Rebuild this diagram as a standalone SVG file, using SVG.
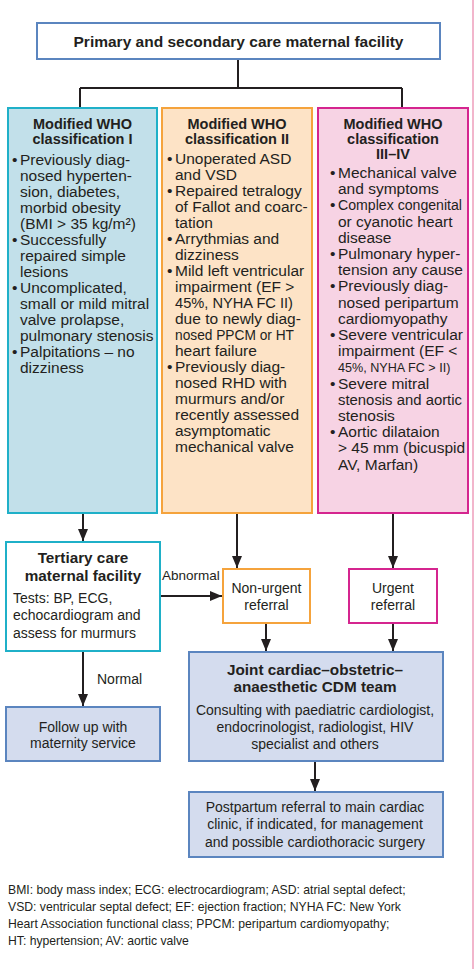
<svg xmlns="http://www.w3.org/2000/svg" width="474" height="969" viewBox="0 0 474 969">
<style>
text{font-family:"Liberation Sans",Arial,sans-serif;fill:#231f20}
.b{font-weight:bold}
.c{font-size:15.5px}
.m{text-anchor:middle}
.r{font-size:14px}
.fn{font-size:12.2px}
.con{stroke:#231f20;stroke-width:2;fill:none}
.bluebox{fill:#d4dcee;stroke:#5b85bf;stroke-width:2}
</style>
<defs>
<marker id="ah" markerUnits="userSpaceOnUse" markerWidth="12" markerHeight="12" viewBox="0 0 12 12" refX="12" refY="6" orient="auto">
<path d="M0,1 L12,6 L0,11 Z" fill="#231f20"/>
</marker>
</defs>
<rect x="0" y="0" width="474" height="969" fill="#ffffff"/>
<rect x="472" y="0" width="2" height="969" fill="#f2b6cc"/>

<g id="connectors">
<path class="con" d="M238,59 V88 M80,88 H402 M80,88 V108 M402,88 V108"/>
<line class="con" x1="83" y1="513" x2="83" y2="541" marker-end="url(#ah)"/>
<line class="con" x1="237" y1="513" x2="237" y2="568" marker-end="url(#ah)"/>
<line class="con" x1="393" y1="513" x2="393" y2="568" marker-end="url(#ah)"/>
<line class="con" x1="160" y1="596" x2="222" y2="596" marker-end="url(#ah)"/>
<line class="con" x1="83" y1="651" x2="83" y2="706" marker-end="url(#ah)"/>
<line class="con" x1="266" y1="623" x2="266" y2="651" marker-end="url(#ah)"/>
<line class="con" x1="393" y1="623" x2="393" y2="651" marker-end="url(#ah)"/>
<line class="con" x1="315" y1="761" x2="315" y2="791" marker-end="url(#ah)"/>
<text class="r" x="162" y="580" style="font-size:13.5px">Abnormal</text>
<text class="r" x="97" y="684">Normal</text>
</g>

<g id="primary">
<rect x="37" y="23" width="403" height="36" fill="#ffffff" stroke="#5b85bf" stroke-width="2"/>
<text class="b m" x="238.5" y="47" style="font-size:15.5px">Primary and secondary care maternal facility</text>
</g>

<g id="who1">
<rect x="8" y="108" width="149" height="405" fill="#c2e0ea" stroke="#1fb0c8" stroke-width="2"/>
<text class="b m" x="82.5" y="129" style="font-size:14.5px">Modified WHO</text>
<text class="b m" x="82.5" y="144" style="font-size:14.5px">classification I</text>
<text class="c">
<tspan x="12" y="165">•</tspan><tspan x="20" y="165">Previously diag-</tspan>
<tspan x="20" y="181">nosed hyperten-</tspan>
<tspan x="20" y="197">sion, diabetes,</tspan>
<tspan x="20" y="213">morbid obesity</tspan>
<tspan x="20" y="229">(BMI &gt; 35 kg/m²)</tspan>
<tspan x="12" y="245">•</tspan><tspan x="20" y="245">Successfully</tspan>
<tspan x="20" y="261">repaired simple</tspan>
<tspan x="20" y="277">lesions</tspan>
<tspan x="12" y="293">•</tspan><tspan x="20" y="293">Uncomplicated,</tspan>
<tspan x="20" y="309">small or mild mitral</tspan>
<tspan x="20" y="325">valve prolapse,</tspan>
<tspan x="20" y="341">pulmonary stenosis</tspan>
<tspan x="12" y="357">•</tspan><tspan x="20" y="357">Palpitations – no</tspan>
<tspan x="20" y="373">dizziness</tspan>
</text>
</g>

<g id="who2">
<rect x="162" y="108" width="150" height="405" fill="#fde3c6" stroke="#f5a33c" stroke-width="2"/>
<text class="b m" x="237" y="129" style="font-size:14.5px">Modified WHO</text>
<text class="b m" x="237" y="144" style="font-size:14.5px">classification II</text>
<text class="c">
<tspan x="167" y="164">•</tspan><tspan x="175" y="164">Unoperated ASD</tspan>
<tspan x="175" y="180">and VSD</tspan>
<tspan x="167" y="196">•</tspan><tspan x="175" y="196">Repaired tetralogy</tspan>
<tspan x="175" y="212">of Fallot and coarc-</tspan>
<tspan x="175" y="228">tation</tspan>
<tspan x="167" y="244">•</tspan><tspan x="175" y="244">Arrythmias and</tspan>
<tspan x="175" y="260">dizziness</tspan>
<tspan x="167" y="276">•</tspan><tspan x="175" y="276">Mild left ventricular</tspan>
<tspan x="175" y="292">impairment (EF &gt;</tspan>
</text>
<text class="c" x="175" y="308" textLength="118" lengthAdjust="spacingAndGlyphs">45%, NYHA FC II)</text>
<text class="c">
<tspan x="175" y="324">due to newly diag-</tspan>
</text>
<text class="c" x="175" y="340" textLength="119" lengthAdjust="spacingAndGlyphs">nosed PPCM or HT</text>
<text class="c">
<tspan x="175" y="356">heart failure</tspan>
<tspan x="167" y="372">•</tspan><tspan x="175" y="372">Previously diag-</tspan>
<tspan x="175" y="388">nosed RHD with</tspan>
<tspan x="175" y="404">murmurs and/or</tspan>
<tspan x="175" y="420">recently assessed</tspan>
<tspan x="175" y="436">asymptomatic</tspan>
<tspan x="175" y="452">mechanical valve</tspan>
</text>
</g>

<g id="who3">
<rect x="318" y="108" width="150" height="405" fill="#f7d3e4" stroke="#d5258f" stroke-width="2"/>
<text class="b m" x="393" y="129" style="font-size:14.5px">Modified WHO</text>
<text class="b m" x="393" y="144" style="font-size:14.5px">classification</text>
<text class="b m" x="393" y="159" style="font-size:14.5px">III–IV</text>
<text class="c">
<tspan x="330" y="178">•</tspan><tspan x="338" y="178">Mechanical valve</tspan>
<tspan x="338" y="194.2">and symptoms</tspan>
<tspan x="330" y="210.4">•</tspan>
</text>
<text class="c" x="338" y="210.4" textLength="124" lengthAdjust="spacingAndGlyphs">Complex congenital</text>
<text class="c">
<tspan x="338" y="226.6">or cyanotic heart</tspan>
<tspan x="338" y="242.8">disease</tspan>
<tspan x="330" y="259">•</tspan><tspan x="338" y="259">Pulmonary hyper-</tspan>
<tspan x="338" y="275.2">tension any cause</tspan>
<tspan x="330" y="291.4">•</tspan><tspan x="338" y="291.4">Previously diag-</tspan>
<tspan x="338" y="307.6">nosed peripartum</tspan>
<tspan x="338" y="323.8">cardiomyopathy</tspan>
<tspan x="330" y="340">•</tspan><tspan x="338" y="340">Severe ventricular</tspan>
<tspan x="338" y="356.2">impairment (EF &lt;</tspan>
</text>
<text x="338" y="372.4" style="font-size:12.6px">45%, NYHA FC &gt; II)</text>
<text class="c">
<tspan x="330" y="388.6">•</tspan><tspan x="338" y="388.6">Severe mitral</tspan>
</text>
<text class="c" x="338" y="404.8" textLength="124" lengthAdjust="spacingAndGlyphs">stenosis and aortic</text>
<text class="c">
<tspan x="338" y="421">stenosis</tspan>
<tspan x="330" y="437.2">•</tspan><tspan x="338" y="437.2">Aortic dilataion</tspan>
<tspan x="338" y="453.4">&gt; 45 mm (bicuspid</tspan>
<tspan x="338" y="469.6">AV, Marfan)</tspan>
</text>
</g>

<g id="tertiary">
<rect x="6" y="542" width="154" height="109" fill="#ffffff" stroke="#1fb0c8" stroke-width="2"/>
<text class="b m" x="83" y="563" style="font-size:15.3px">Tertiary care</text>
<text class="b m" x="83" y="581" style="font-size:15.3px">maternal facility</text>
<text class="r" x="13" y="603">Tests: BP, ECG,</text>
<text class="r" x="13" y="620">echocardiogram and</text>
<text class="r" x="13" y="638">assess for murmurs</text>
</g>

<g id="nonurgent">
<rect x="223" y="569" width="87" height="54" fill="#ffffff" stroke="#f5a33c" stroke-width="2"/>
<text class="r m" x="266.5" y="593">Non-urgent</text>
<text class="r m" x="266.5" y="610">referral</text>
</g>

<g id="urgent">
<rect x="349" y="569" width="88" height="54" fill="#ffffff" stroke="#d5258f" stroke-width="2"/>
<text class="r m" x="393" y="593">Urgent</text>
<text class="r m" x="393" y="610">referral</text>
</g>

<g id="followup">
<rect class="bluebox" x="6" y="707" width="154" height="54"/>
<text class="r m" x="83" y="732">Follow up with</text>
<text class="r m" x="83" y="748">maternity service</text>
</g>

<g id="joint">
<rect class="bluebox" x="189" y="652" width="254" height="109"/>
<text class="b m" x="315" y="675" style="font-size:15.3px">Joint cardiac–obstetric–</text>
<text class="b m" x="315" y="692" style="font-size:15.3px">anaesthetic CDM team</text>
<text class="r m" x="315" y="715">Consulting with paediatric cardiologist,</text>
<text class="r m" x="315" y="732">endocrinologist, radiologist, HIV</text>
<text class="r m" x="315" y="749">specialist and others</text>
</g>

<g id="postpartum">
<rect class="bluebox" x="189" y="792" width="254" height="65"/>
<text class="r m" x="315" y="812">Postpartum referral to main cardiac</text>
<text class="r m" x="315" y="829">clinic, if indicated, for management</text>
<text class="r m" x="315" y="847">and possible cardiothoracic surgery</text>
</g>

<g id="footnote">
<text class="fn" x="8" y="894">BMI: body mass index; ECG: electrocardiogram; ASD: atrial septal defect;</text>
<text class="fn" x="8" y="911">VSD: ventricular septal defect; EF: ejection fraction; NYHA FC: New York</text>
<text class="fn" x="8" y="928">Heart Association functional class; PPCM: peripartum cardiomyopathy;</text>
<text class="fn" x="8" y="945">HT: hypertension; AV: aortic valve</text>
</g>
</svg>
